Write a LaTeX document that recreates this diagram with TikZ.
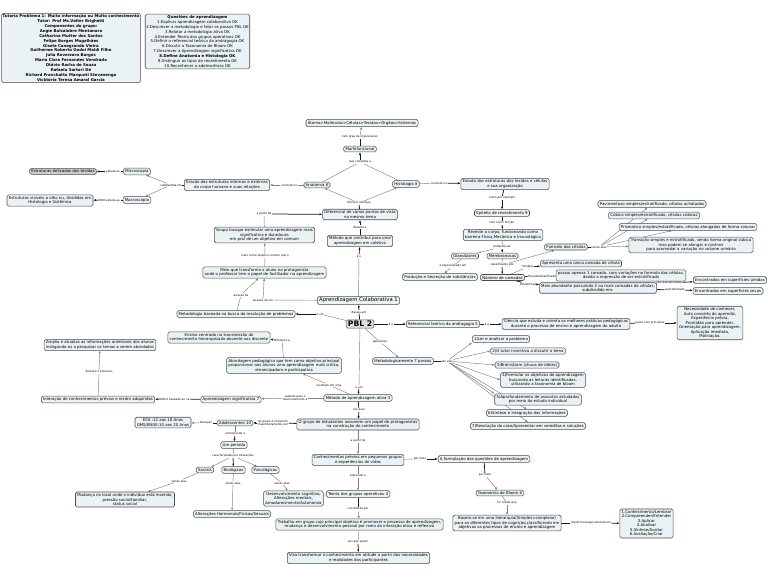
\documentclass[tikz,border=0pt]{standalone}
\usepackage{fontspec}
\setmainfont{DejaVu Sans}
\usetikzlibrary{arrows.meta,backgrounds}

\tikzset{
  conceito/.style={draw=black!70, fill=azulado, rounded corners=1.6pt, line width=0.55pt, align=center,
    inner xsep=1.8pt, inner ysep=1.4pt, font=\fontsize{3.9}{4.5}\selectfont},
  quadro/.style={conceito, inner xsep=1pt, inner ysep=1pt, font=\fontsize{3.9}{4.95}\selectfont},
  ligacao/.style={inner sep=0.5pt, align=center, font=\fontsize{2.8}{3}\selectfont},
  fraca/.style={draw=black!50, line width=0.45pt},
  forte/.style={draw=black!90, line width=0.75pt},
  seta/.style={-{Latex[length=2.6pt,width=2.2pt]}}
}
\definecolor{azulado}{HTML}{EAF2F5}

\begin{document}
\begin{tikzpicture}[x=1pt,y=-1pt]
\useasboundingbox (0,0) rectangle (768,578);

\node [quadro, font=\fontsize{3.9}{4.95}\selectfont\bfseries] (tutoria) at (71,48) {Tutoria Problema 1: Muita informação ou Muito conhecimento\\Tutor: Prof Ms.Valter Brighetti\\Componentes do grupo:\\Angie Balsalobre Montanaro\\Catharina Mutter dos Santos\\Felipe Borges Magalhães\\Gisele Canegrando Vieira\\Guilherme Roberto Godoi Maldi Filho\\Julia Reverzoro Borges\\Maria Clara Fernandes Vendrado\\Otávio Rocha de Souza\\Rafaela Sartori Dé\\Richard Franchatto Marqueti Stevanengo\\Vicktória Teresa Amaral Garcia};
\node [quadro] (questoes) at (197.5,41.5) {\textbf{Questões de aprendizagem}\\1.Explicar aprendizagem colaborativa OK\\2.Descrever a metodologia e fator os passos PBL OK\\3.Relatar a metodologia ativa OK\\4.Entender Teoria dos grupos operativos OK\\5.Definir o referencial teórico da andragogia OK\\6.Discutir a Taxonomia de Bloom OK\\7.Descrever a Aprendizagem significativa OK\\\textbf{8.Define Anatomia e Histologia OK}\\9.Distinguir os tipos do revestimento OK\\10.Reconhecer a adolescência OK};

\node [conceito] (atomo) at (362,123) {Átomo>Moléculas>Células>Tecidos>Órgãos>Sistemas};
\node [ligacao] (lgrau) at (360,137) {tem grau de organização};
\node [conceito] (morfo) at (360,149) {Morfofuncional};
\node [ligacao] (lcompleta) at (360,162) {que completa a};
\node [conceito] (anatomia) at (317,185) {Anatomia 8};
\node [conceito] (histologia) at (406,184) {Histologia 8};
\node [ligacao] (lconsiste) at (289,185) {consiste no};
\node [ligacao] (lconsistem) at (439,183) {consiste no};
\node [conceito] (estudoa) at (227,185) {Estudo das estruturas internas e externas\\do corpo humano e suas relações};
\node [ligacao] (lsubdiv) at (171,185) {subdividida em};
\node [conceito] (micro) at (137,171.5) {Microscopia};
\node [conceito] (macro) at (137,200) {Macroscopia};
\node [ligacao] (lestudaa) at (113,171.5) {estuda as};
\node [ligacao] (lestudab) at (113,200) {estuda as};
\node [conceito, fill=black!20] (delicadas) at (63,171.5) {Estruturas delicadas dos tecidos};
\node [conceito] (visiveis) at (50,200.5) {Estruturas visíveis a olho nu, divididas em\\Histologia e Sistêmica};

\node [ligacao] (lenfoque) at (359,203) {têm por enfoque};
\node [conceito] (diferencial) at (360,214.5) {Diferencial de vários pontos de vista\\no mesmo tema};
\node [ligacao] (lresulta) at (360,227) {Resulta a};
\node [conceito] (coletivo) at (360,241) {Método que contribui para uma\\aprendizagem em coletivo};
\node [ligacao] (leo) at (359,256) {é o};
\node [conceito, font=\fontsize{5.3}{6}\selectfont] (colaborativa) at (358.5,300.5) {Aprendizagem Colaborativa 1};
\node [ligacao] (lbaseia) at (359,312) {Baseia em};
\node [conceito, font=\fontsize{7.6}{9}\selectfont\bfseries, fill=black!12] (pbl) at (360,324) {PBL 2};

\node [conceito] (grupo) at (264.5,235) {Grupo busque estimular uma aprendizagem mais\\significativa e duradoura\\em prol de um objetivo em comum};
\node [ligacao] (lpartir) at (264,214) {a partir de};
\node [ligacao] (lmeio) at (265,256) {meio como objetivo comum que o};
\node [conceito] (meio) at (264.5,272.5) {Meio que transforma o aluno no protagonista\\onde o professor tem o papel de facilitador na aprendizagem};
\node [ligacao] (latraves) at (241,295) {através de};
\node [ligacao] (latravesum) at (263,300) {através de um};
\node [conceito] (problemas) at (236,314) {Metodologia baseada na busca da resolução de problemas};
\node [ligacao] (leum) at (320,314) {é um};

\node [ligacao] (leoo) at (391,324) {é o};
\node [conceito] (andragogia) at (443,324) {Referencial teórico da andragogia 5};
\node [ligacao] (lea) at (487,324) {é a};
\node [conceito] (ciencia) at (566,324) {Ciência que estuda e orienta as melhores práticas pedagógicas\\durante o processo de ensino e aprendizagem do adulto};
\node [ligacao] (lparte) at (650,323) {parte com princípios};
\node [conceito] (necessidade) at (710,323) {Necessidade de conhecer,\\Auto conceito do aprendiz,\\Experiência prévia,\\Prontidão para aprender,\\Orientação para aprendizagem,\\Aplicação imediata,\\Motivação.};

\node [ligacao] (lapresenta) at (380,342) {apresenta};
\node [conceito] (passos) at (403,361) {Metodologicamente 7 passos};
\node [ligacao] (lsao) at (447,361) {são eles};
\node [conceito] (passoa) at (501,339) {1)Ler e analisar o problema};
\node [conceito] (passob) at (528,351) {2)O tutor incentiva a discutir o tema};
\node [conceito] (passoc) at (527,365) {3)Brainstorm (chuva de ideias)};
\node [conceito] (passod) at (543,380) {4)Formular os objetivos de aprendizagem\\buscando as leituras identificadas,\\utilizando a taxonomia de bloom};
\node [conceito] (passoe) at (538,399.5) {5)Aprofundamento de assuntos estudados\\por meio do estudo individual};
\node [conceito] (passof) at (527,413) {6)Síntese e integração das informações};
\node [conceito] (passog) at (528,426) {7)Resolução do caso/Apresentar em vereditos e soluções};

\node [conceito] (estudob) at (505,184) {Estudo das estruturas dos tecidos e células\\e sua organização};
\node [ligacao] (lcomo) at (502,198) {como por exemplo};
\node [conceito] (epitelio) at (502,213) {Epitelio de revestimento 9};
\node [ligacao] (lfuncao) at (502,223) {tem como função};
\node [conceito] (reveste) at (503,235) {Reveste o corpo, funcionando como\\barreira Física,Mecânica e Imunológica};
\node [ligacao] (lpodendo) at (502,247) {podendo ser};
\node [conceito] (glandulares) at (465,256) {Glandulares};
\node [conceito] (membranosos) at (502.5,256) {Membranosos};
\node [ligacao] (lespecial) at (453,266) {é especializado em};
\node [conceito] (producao) at (440,277) {Produção e Secreção de substâncias};
\node [ligacao] (lclassif) at (502,265) {classificados por};
\node [conceito] (camadas) at (502.5,277.5) {Número de camadas};
\node [conceito] (formato) at (566,247) {Formato das células};
\node [ligacao] (lsendo) at (599,247) {sendo eles};
\node [conceito] (pavimentoso) at (652,204) {Pavimentoso simples/estratificado, células achatadas};
\node [conceito] (cubico) at (654,215.5) {Cúbico simples/estratificado, células cúbicas};
\node [conceito] (prismatico) at (688,227) {Prismatico simples/estratificado, células alongadas de forma colunar};
\node [conceito] (transicao) at (691,245) {Transição simples e estratificado, sendo forma original cúbica\\mas podem se alongar e contrair\\para acomodar a variação no volume urinário};
\node [ligacao] (lsimples) at (528,267) {Simples};
\node [conceito] (unica) at (581,263.5) {Apresenta uma única camada de célula};
\node [ligacao] (lpseudo) at (542,276) {Pseudoestratificado};
\node [conceito] (apenas) at (621,275.5) {possui apenas 1 camada, com variações no formato das células,\\dando a impressão de ser estratificada};
\node [ligacao] (lestrat) at (529,284) {Estratificado};
\node [conceito] (abundante) at (598,288) {Mais abundante possuindo 2 ou mais camadas de células,\\subdividido em:};
\node [ligacao] (lnaoquer) at (669,283) {não queratinizado};
\node [ligacao] (lquer) at (675,290) {queratinizado};
\node [conceito] (umidas) at (730,280) {Encontrados em superfícies úmidas};
\node [conceito] (secas) at (728,291) {Encontrados em superfícies secas};

\node [conceito] (ensino) at (219,337.5) {Ensino centrado na transmissão do\\conhecimento hierarquizado docente aos discente};
\node [ligacao] (ldifere) at (282,340) {Diferente a};
\node [conceito] (abordagem) at (284,365.5) {Abordagem pedagógica que tem como objetivo principal\\proporcionar aos alunos uma aprendizagem mais crítica,\\emancipadora e participativa};
\node [ligacao] (lresultam) at (329,385) {resultam em uma};
\node [ligacao] (leumm) at (359,387) {é um};
\node [conceito] (ativa) at (358,398) {Método de aprendizagem ativa 3};
\node [ligacao] (lfaz) at (359,410) {faz qual};
\node [ligacao] (lvalendo) at (295,398) {valendo para o\\relacionamento a};
\node [conceito] (significativa) at (231,399.5) {Aprendizagem significativa 7};
\node [ligacao] (lbaseada) at (178,399) {é baseado-se na};
\node [conceito] (interacao) at (98,399.5) {Interação de conhecimentos prévios e recém adquiridos};
\node [ligacao] (lprocesso) at (99,372) {durante o processo};
\node [conceito] (amplia) at (100,345) {Amplia e atualiza as informações anteriores dos alunos\\instigando-os a pesquisar os temas a serem abordados};
\node [conceito] (adolescentes) at (235,423) {Adolescentes 10};
\node [ligacao] (lduracao) at (206,423) {Duração};
\node [conceito] (eca) at (163,422.5) {ECA :12 aos 18 Anos\\OMS/ENGE:10 aos 20 Anos};
\node [ligacao] (lcomposto) at (273,423) {de grupo é composto\\majoritariamente por};
\node [conceito] (estudantes) at (358,424.5) {O grupo de estudantes assumem um papel de protagonistas\\na construção do conhecimento};
\node [ligacao] (lcorresp) at (235,434) {corresponde a};
\node [conceito] (periodo) at (234,445) {Um período};
\node [ligacao] (lcaract) at (233,456) {caracterizadas por alterações};
\node [conceito] (sociais) at (205,470) {Sociais};
\node [conceito] (biologicas) at (233.5,470) {Biológicas};
\node [conceito] (psicologicas) at (265.5,470) {Psicológicas};
\node [ligacao] (lsociais) at (179,481) {sendo elas};
\node [ligacao] (lbiolog) at (233,483) {sendo elas};
\node [ligacao] (lpsico) at (282,483) {sendo elas};
\node [conceito] (mudanca) at (125,499.5) {Mudança no local onde o indivíduo está inserido,\\pressão social/familiar,\\status social};
\node [conceito] (hormonais) at (232,514) {Alterações Hormonais/Físicas/Sexuais};
\node [conceito] (cognitivo) at (293.5,498.5) {Desenvolvimento cognitivo,\\Alterações mentais,\\Amadurecimento/Autonomia};

\node [ligacao] (lapartir) at (358,441) {a partir de};
\node [conceito] (previos) at (358,460) {Conhecimentos prévios em pequenos grupos\\e experiências de vidas};
\node [ligacao] (lpratica) at (358,476) {praticado a};
\node [conceito] (operativos) at (358,494) {Teoria dos grupos operativos 4};
\node [ligacao] (lconstit) at (358,509) {constituída por};
\node [conceito] (trabalho) at (359.5,524.5) {Trabalho em grupo cujo principal objetivo é promover o processo de aprendizagem,\\mudança e desenvolvimento pessoal por meio da interação ativa e reflexiva};
\node [ligacao] (lvisam) at (358,542) {aos que visam};
\node [conceito] (visa) at (358.5,558) {Visa transformar o conhecimento em atitude a partir das necessidades\\e realidades dos participantes};
\node [ligacao] (lpormeio) at (420,459) {por meio};
\node [conceito] (formulacao) at (484,459) {A formulação das questões de aprendizagem};
\node [ligacao] (lpormeiob) at (485,475) {por meio};
\node [conceito] (bloom) at (500,493) {Taxonomia de Bloom 6};
\node [ligacao] (lcriada) at (507,503) {foi criada que};
\node [conceito] (hierarquia) at (507,523) {Baseia-se em uma hierarquia(Simples>complexo)\\para os diferentes tipos de cognição,classificando em\\objetivos os processos de ensino e aprendizagem};
\node [ligacao] (ldivide) at (591,523) {dividir hierarquicamente em};
\node [conceito] (niveis) at (646.5,523.5) {1.Conhecimento/Lembrar\\2.Compreender/Entender\\3.Aplicar\\4.Analisar\\5.Síntese/Avaliar\\6.Avaliação/Criar};

\begin{scope}[on background layer]
\draw [forte] (morfo) -- (lgrau);
\draw [fraca, seta] (lgrau) -- (atomo);
\draw [fraca] (anatomia) -- (lcompleta);
\draw [fraca] (histologia) -- (lcompleta);
\draw [forte, seta] (lcompleta) -- (morfo);
\draw [forte] (diferencial) -- (lenfoque);
\draw [fraca, seta] (lenfoque) -- (anatomia);
\draw [fraca, seta] (lenfoque) -- (histologia);
\draw [fraca] (anatomia) -- (lconsiste);
\draw [fraca, seta] (lconsiste) -- (estudoa);
\draw [fraca] (histologia) -- (lconsistem);
\draw [forte, seta] (lconsistem) -- (estudob);
\draw [forte] (estudoa) -- (lsubdiv);
\draw [fraca, seta] (lsubdiv) -- (micro);
\draw [fraca, seta] (lsubdiv) -- (macro);
\draw [forte] (micro) -- (lestudaa);
\draw [forte, seta] (lestudaa) -- (delicadas);
\draw [forte] (macro) -- (lestudab);
\draw [forte, seta] (lestudab) -- (visiveis);

\draw [forte] (coletivo) -- (lresulta);
\draw [forte, seta] (lresulta) -- (diferencial);
\draw [fraca] (colaborativa) -- (leo);
\draw [forte, seta] (leo) -- (coletivo);
\draw [forte] (pbl) -- (lbaseia);
\draw [forte, seta] (lbaseia) -- (colaborativa);
\draw [fraca] (colaborativa) -- (latravesum);
\draw [fraca, seta] (latravesum) -- (meio);
\draw [fraca] (meio) -- (lmeio);
\draw [fraca, seta] (lmeio) -- (grupo);
\draw [fraca] (grupo) -- (lpartir);
\draw [forte, seta] (lpartir) -- (diferencial);
\draw [fraca] (problemas) -- (latraves);
\draw [fraca, seta] (latraves) -- (meio);
\draw [fraca] (pbl) -- (leum);
\draw [forte, seta] (leum) -- (problemas);

\draw [forte] (pbl) -- (leoo);
\draw [forte, seta] (leoo) -- (andragogia);
\draw [forte] (andragogia) -- (lea);
\draw [forte, seta] (lea) -- (ciencia);
\draw [forte] (ciencia) -- (lparte);
\draw [forte, seta] (lparte) -- (necessidade);
\draw [fraca] (pbl) -- (lapresenta);
\draw [fraca, seta] (lapresenta) -- (passos);
\draw [forte] (passos) -- (lsao);
\draw [fraca, seta] (lsao) -- (passoa.south west);
\draw [fraca, seta] (lsao) -- (passob.west);
\draw [fraca, seta] (lsao) -- (passoc.west);
\draw [fraca, seta] (lsao) -- (passod.west);
\draw [fraca, seta] (lsao) -- (passoe.north west);
\draw [fraca, seta] (lsao) -- (passof.north);
\draw [fraca, seta] (lsao) -- (passog.north);

\draw [forte] (estudob) -- (lcomo);
\draw [forte, seta] (lcomo) -- (epitelio);
\draw [forte] (epitelio) -- (lfuncao);
\draw [forte, seta] (lfuncao) -- (reveste);
\draw [fraca] (reveste) -- (lpodendo);
\draw [fraca, seta] (lpodendo) -- (glandulares);
\draw [forte, seta] (lpodendo) -- (membranosos);
\draw [fraca] (glandulares) -- (lespecial);
\draw [fraca, seta] (lespecial) -- (producao);
\draw [fraca] (membranosos) -- (lclassif);
\draw [forte, seta] (lclassif) -- (camadas);
\draw [fraca, seta] (lclassif) -- (formato);
\draw [forte] (formato) -- (lsendo);
\draw [fraca, seta] (lsendo) -- (pavimentoso);
\draw [fraca, seta] (lsendo) -- (cubico);
\draw [fraca, seta] (lsendo) -- (prismatico);
\draw [fraca, seta] (lsendo) -- (transicao);
\draw [fraca] (camadas) -- (lsimples);
\draw [forte, seta] (lsimples) -- (unica);
\draw [forte] (camadas) -- (lpseudo);
\draw [forte, seta] (lpseudo) -- (apenas);
\draw [forte] (camadas) -- (lestrat);
\draw [forte, seta] (lestrat) -- (abundante);
\draw [forte] (abundante) -- (lnaoquer);
\draw [forte, seta] (lnaoquer) -- (umidas);
\draw [forte] (abundante) -- (lquer);
\draw [forte, seta] (lquer) -- (secas);

\draw [fraca] (abordagem) -- (ldifere);
\draw [forte, seta] (ldifere) -- (ensino);
\draw [fraca] (ativa) -- (lresultam);
\draw [fraca, seta] (lresultam) -- (abordagem);
\draw [fraca] (pbl) -- (leumm);
\draw [forte, seta] (leumm) -- (ativa);
\draw [forte] (ativa) -- (lfaz);
\draw [forte, seta] (lfaz) -- (estudantes);
\draw [fraca] (ativa) -- (lvalendo);
\draw [fraca, seta] (lvalendo) -- (significativa);
\draw [forte] (significativa) -- (lbaseada);
\draw [forte, seta] (lbaseada) -- (interacao);
\draw [fraca] (interacao) -- (lprocesso);
\draw [fraca, seta] (lprocesso) -- (amplia);
\draw [forte] (estudantes) -- (lcomposto);
\draw [forte, seta] (lcomposto) -- (adolescentes);
\draw [forte] (adolescentes) -- (lduracao);
\draw [fraca, seta] (lduracao) -- (eca);
\draw [fraca] (adolescentes) -- (lcorresp);
\draw [forte, seta] (lcorresp) -- (periodo);
\draw [fraca] (periodo) -- (lcaract);
\draw [fraca, seta] (lcaract) -- (sociais);
\draw [forte, seta] (lcaract) -- (biologicas);
\draw [fraca, seta] (lcaract) -- (psicologicas);
\draw [fraca] (sociais) -- (lsociais);
\draw [fraca, seta] (lsociais) -- (mudanca);
\draw [fraca] (biologicas) -- (lbiolog);
\draw [fraca, seta] (lbiolog) -- (hormonais);
\draw [fraca] (psicologicas) -- (lpsico);
\draw [fraca, seta] (lpsico) -- (cognitivo);

\draw [fraca] (estudantes) -- (lapartir);
\draw [fraca, seta] (lapartir) -- (previos);
\draw [fraca] (previos) -- (lpratica);
\draw [fraca, seta] (lpratica) -- (operativos);
\draw [forte] (operativos) -- (lconstit);
\draw [fraca, seta] (lconstit) -- (trabalho);
\draw [fraca] (trabalho) -- (lvisam);
\draw [forte, seta] (lvisam) -- (visa);
\draw [fraca] (previos) -- (lpormeio);
\draw [forte, seta] (lpormeio) -- (formulacao);
\draw [forte] (formulacao) -- (lpormeiob);
\draw [fraca, seta] (lpormeiob) -- (bloom);
\draw [fraca] (bloom) -- (lcriada);
\draw [fraca, seta] (lcriada) -- (hierarquia);
\draw [forte] (hierarquia) -- (ldivide);
\draw [forte, seta] (ldivide) -- (niveis);
\end{scope}
\end{tikzpicture}
\end{document}
